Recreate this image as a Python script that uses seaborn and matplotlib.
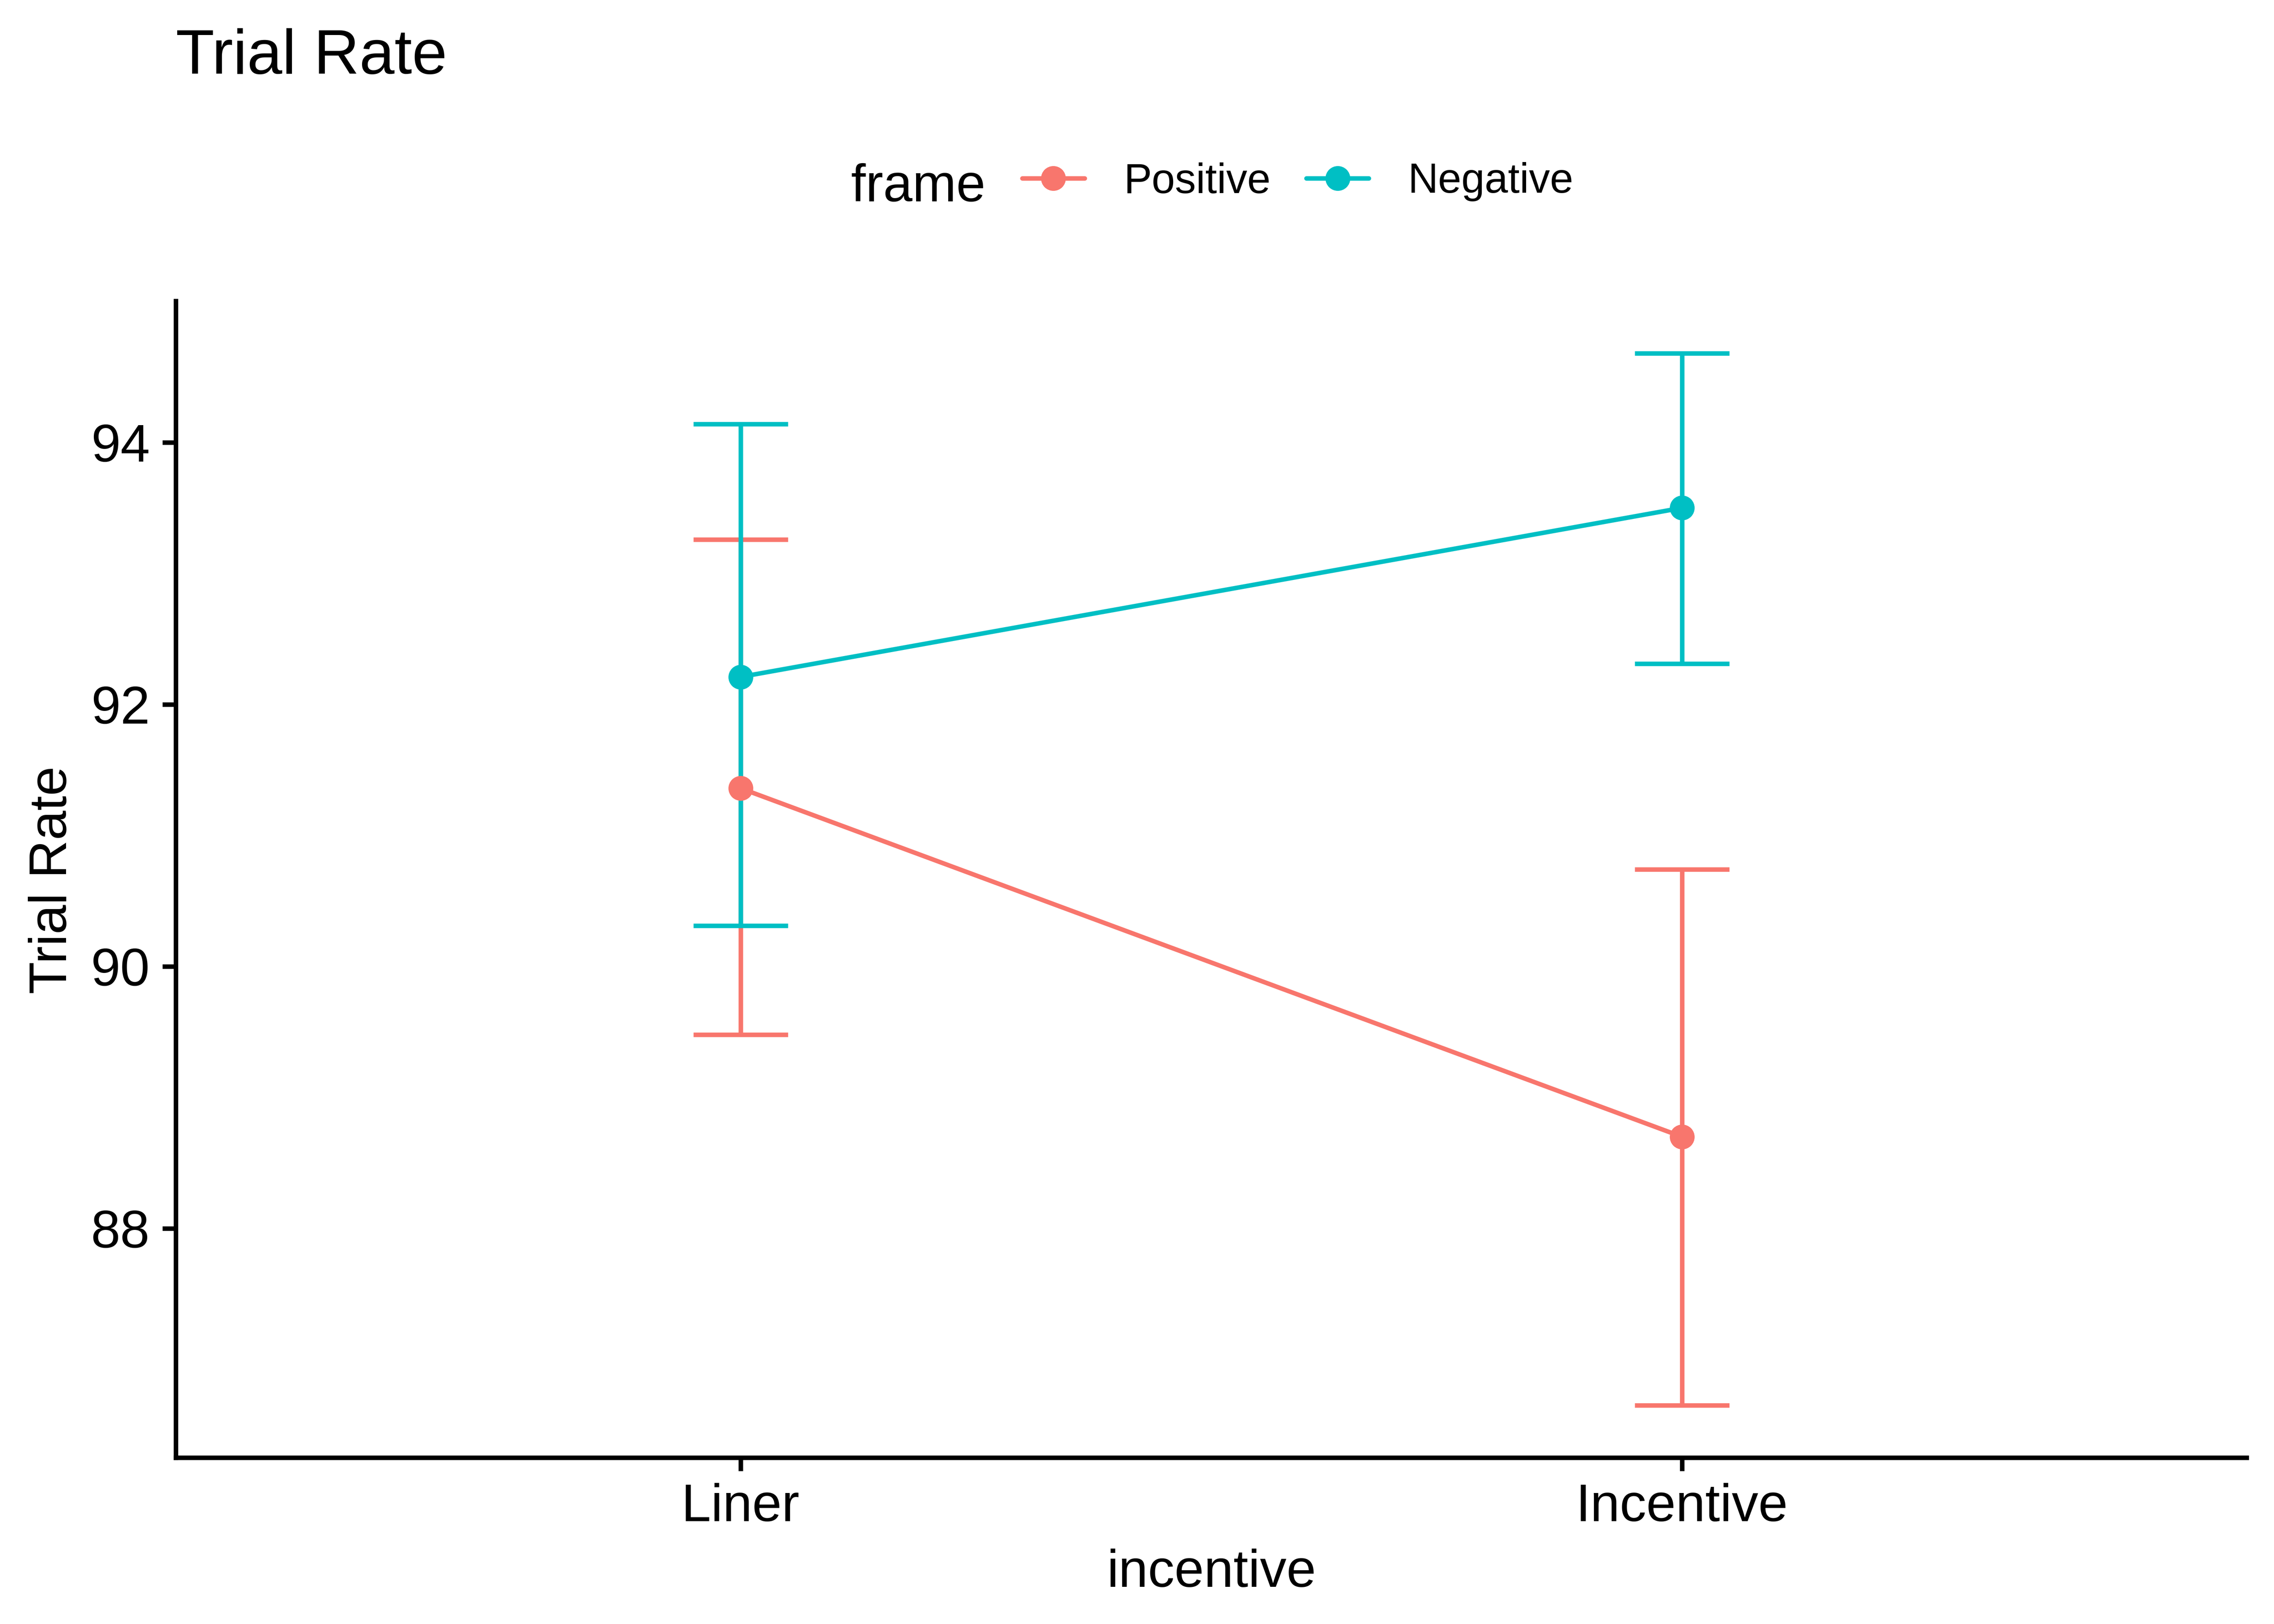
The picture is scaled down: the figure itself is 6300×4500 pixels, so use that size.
#!/usr/bin/env python3
"""Trial rate by incentive and frame - point/line plot with error bars"""
import numpy as np
import pandas as pd
import matplotlib
matplotlib.use("Agg")
import matplotlib.pyplot as plt
from matplotlib.lines import Line2D
import seaborn as sns

# values
incentive = ["Liner", "Incentive"]
frames = ["Positive", "Negative"]
positive_mean = [91.36, 88.70]
positive_lower = [89.48, 86.65]
positive_upper = [93.26, 90.74]
negative_mean = [92.21, 93.50]
negative_lower = [90.31, 92.31]
negative_upper = [94.14, 94.68]
y_ticks = [88, 90, 92, 94]
palette = {"Positive": "#F8766D", "Negative": "#00BFC4"}

df = pd.DataFrame({
    "incentive": incentive * 2,
    "frame": ["Positive"] * 2 + ["Negative"] * 2,
    "rate": positive_mean + negative_mean,
    "lower": positive_lower + negative_lower,
    "upper": positive_upper + negative_upper,
})

sns.set_style("ticks")
plt.rcParams["font.family"] = ["Liberation Sans", "DejaVu Sans"]
plt.rcParams["text.color"] = "black"

fig = plt.figure(figsize=(14, 10), dpi=450)
left, right, bottom, top = 0.0773, 0.988, 0.1024, 0.8147
ax = fig.add_axes([left, bottom, right - left, top - bottom])

# error bars first, points and lines on top
for fr in frames:
    g = df[df["frame"] == fr]
    xpos = [incentive.index(v) for v in g["incentive"]]
    ax.errorbar(xpos, g["rate"], yerr=[g["rate"] - g["lower"], g["upper"] - g["rate"]],
                fmt="none", ecolor=palette[fr], elinewidth=2, capsize=20.9,
                capthick=2, zorder=1.5)

sns.pointplot(data=df, x="incentive", y="rate", hue="frame", order=incentive,
              hue_order=frames, palette=palette, errorbar=None, markers="o",
              linestyles="-", ax=ax, legend=False)
for ln in ax.lines:
    if ln.get_marker() == "o":
        ln.set_markersize(11)
        ln.set_markeredgewidth(0)
        ln.set_linewidth(2)

ax.set_xlim(-0.6, 1.6)
ax.set_ylim(86.25, 95.08)
ax.set_yticks(y_ticks)
ax.set_xlabel("")
ax.set_ylabel("")
sns.despine(ax=ax)
for s in ["left", "bottom"]:
    ax.spines[s].set_linewidth(2)
    ax.spines[s].set_color("black")
ax.tick_params(axis="both", length=5.9, width=2, color="black",
               labelsize=23.5, labelcolor="black")
ax.tick_params(axis="x", pad=5.3)
ax.tick_params(axis="y", pad=5.6)

fig.text(left, 0.9547, "Trial Rate", fontsize=28, ha="left", va="baseline")
fig.text(184 / 6300, 0.4582, "Trial Rate", fontsize=23.5, rotation=90,
         rotation_mode="anchor", ha="center", va="baseline")
fig.text((left + right) / 2, 0.0229, "incentive", fontsize=23.5,
         ha="center", va="baseline")

# legend across the top: title then keys
fig.text(0.3743, 0.876, "frame", fontsize=23.3, ha="left", va="baseline")
handles = [Line2D([], [], color=palette[f], lw=2, marker="o", markersize=11,
                  markeredgewidth=0) for f in frames]
fig.legend(handles, frames, loc="center left", bbox_to_anchor=(0.4495, 0.888),
           ncol=2, frameon=False, fontsize=18.6, handlelength=1.49,
           handletextpad=0.93, columnspacing=0.85, borderpad=0, borderaxespad=0,
           labelcolor="black")

fig.savefig("out.png", dpi=450)
